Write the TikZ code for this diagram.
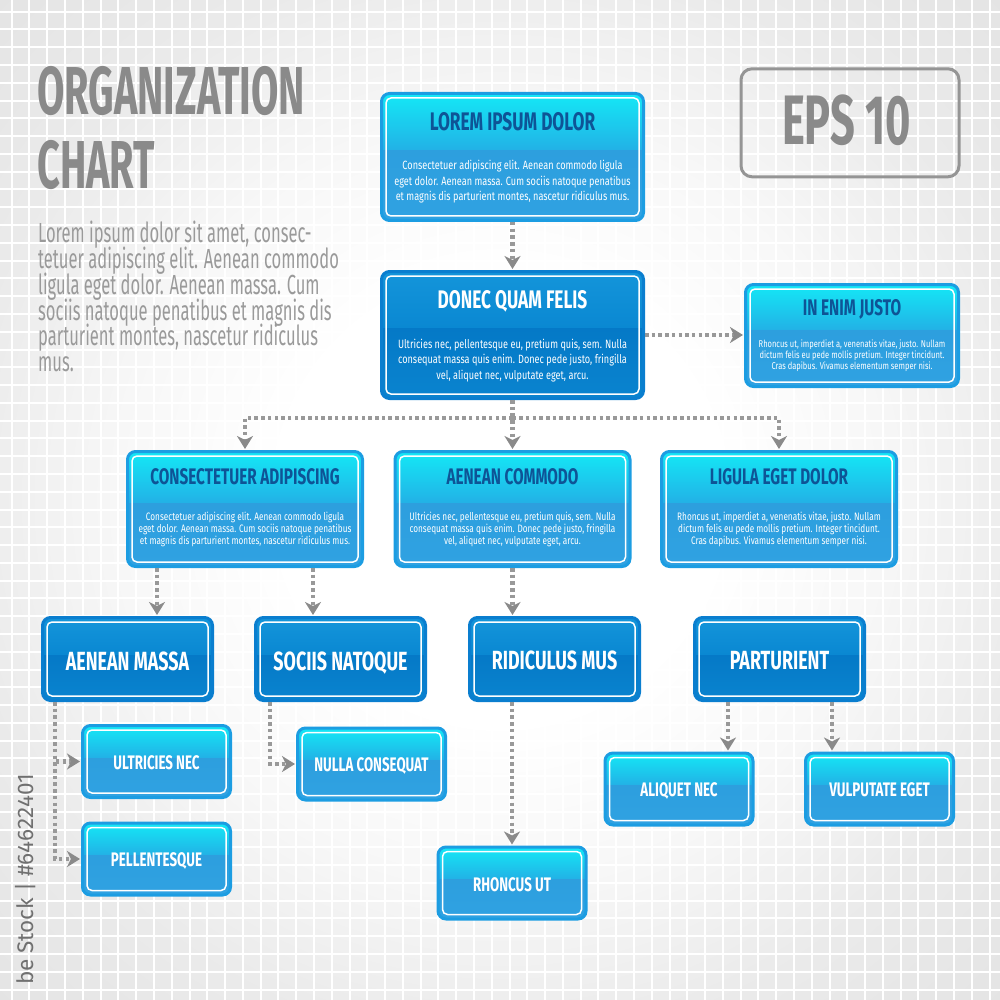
\documentclass[tikz,border=0pt]{standalone}
\usepackage{fontspec}
\setmainfont{Fira Sans}
\newfontfamily\titlefont{Fira Sans}[FakeStretch=0.585]
\newfontfamily\epsfont{Fira Sans}[FakeStretch=0.62]
\newfontfamily\headfont{Fira Sans}[FakeStretch=0.68]
\newfontfamily\bodyfont{Fira Sans}[FakeStretch=0.76]
\newfontfamily\parafont{Fira Sans}[FakeStretch=0.60]
\usetikzlibrary{arrows.meta,calc}
\definecolor{cyTop}{HTML}{14E8F6}
\definecolor{cyMid}{HTML}{22B2E6}
\definecolor{cyLow}{HTML}{2A9CDB}
\definecolor{cyBot}{HTML}{30A2E2}
\definecolor{cyEdge}{HTML}{1C9DE2}
\definecolor{dkTop}{HTML}{1495DA}
\definecolor{dkMid}{HTML}{0A88D2}
\definecolor{dkLow}{HTML}{0070C0}
\definecolor{dkBot}{HTML}{0A84CF}
\definecolor{dkEdge}{HTML}{0A7ECF}
\definecolor{hdrBlue}{HTML}{0E5496}
\definecolor{greyText}{HTML}{8A8A8A}
\definecolor{paraGrey}{HTML}{9A9A9A}
\definecolor{connGrey}{HTML}{999999}
\definecolor{tipGrey}{HTML}{8A8A8A}
\definecolor{markGrey}{HTML}{707070}
\definecolor{epsGrey}{HTML}{959595}
\pgfdeclareradialshading{bgglow}{\pgfpoint{0bp}{0bp}}{color(0bp)=(white);color(11bp)=(white);color(19bp)=(black!3);color(27bp)=(black!8);color(37bp)=(black!11);color(50bp)=(black!12)}
\tikzset{
  glossy/.style n args={5}{rounded corners=8pt, draw=#5, line width=3pt, inner sep=0pt,
    path picture={
      \coordinate (ppnw) at (path picture bounding box.north west);
      \coordinate (ppse) at (path picture bounding box.south east);
      \fill[sharp corners,top color=#3,bottom color=#4] (ppnw) rectangle (ppse);
      \fill[sharp corners,top color=#1,bottom color=#2] (ppnw) rectangle ($(ppse|-ppnw)!0.44!(ppse)$);
      \draw[white,line width=1.5pt,rounded corners=5pt] ([shift={(4.5pt,-4.5pt)}]ppnw) rectangle ([shift={(-4.5pt,4.5pt)}]ppse);
    }},
  cybox/.style={glossy={cyTop}{cyMid}{cyLow}{cyBot}{cyEdge}},
  dkbox/.style={glossy={dkTop}{dkMid}{dkLow}{dkBot}{dkEdge}},
  bigsize/.style={minimum width=262pt, minimum height=127pt},
  sidesize/.style={minimum width=213pt, minimum height=102pt},
  midsize/.style={minimum width=235pt, minimum height=115pt},
  rowsize/.style={minimum width=170pt, minimum height=83pt},
  smallsize/.style={minimum width=148pt, minimum height=72pt},
  hdrA/.style={font=\headfont\bfseries\fontsize{25.4}{26}\selectfont, inner sep=0pt, anchor=base},
  hdrB/.style={font=\headfont\bfseries\fontsize{22.6}{23}\selectfont, inner sep=0pt, anchor=base, text=hdrBlue},
  hdrM/.style={font=\headfont\bfseries\fontsize{22.5}{23}\selectfont, inner sep=0pt, anchor=base, text=hdrBlue},
  rowtxt/.style={font=\headfont\bfseries\fontsize{26.3}{27}\selectfont, inner sep=0pt, anchor=base, text=white},
  smalltxt/.style={font=\headfont\bfseries\fontsize{19.6}{20}\selectfont, inner sep=0pt, anchor=base, text=white},
  bodyA/.style={font=\bodyfont\fontsize{12}{15.5}\selectfont, align=center, inner sep=0pt, text=white},
  bodyB/.style={font=\bodyfont\fontsize{9.9}{11.3}\selectfont, align=center, inner sep=0pt, text=white},
  bodyM/.style={font=\bodyfont\fontsize{10.8}{12}\selectfont, align=center, inner sep=0pt, text=white},
  conn/.style={draw=connGrey, line width=4.5pt, dash pattern=on 3.5pt off 3.2pt, shorten >=1pt,
    -{Stealth[length=13pt,width=16pt,inset=4pt,color=tipGrey]}},
}
\begin{document}
\begin{tikzpicture}[x=1pt,y=-1pt]
\useasboundingbox (0,0) rectangle (1000,1000);
\clip (0,0) rectangle (1000,1000);
% background
\shade[shading=bgglow] (0,0) rectangle (1000,1000);
\foreach \i in {0,...,56} {
  \draw[white,line width=2pt] ({11.7+17.78*\i},0) -- ++(0,1000);
  \draw[white,line width=2pt] (0,{11.7+17.78*\i}) -- ++(1000,0);
}
% title and paragraph
\node[font=\titlefont\bfseries\fontsize{67.8}{68}\selectfont, text=greyText, anchor=base west, inner sep=0pt] (t1) at (37,115) {ORGANIZATION};
\node[font=\titlefont\bfseries\fontsize{67.8}{68}\selectfont, text=greyText, anchor=base west, inner sep=0pt] (t2) at (37,189) {CHART};
\node[font=\parafont\fontsize{27.6}{26}\selectfont, text=paraGrey, anchor=base west, inner sep=0pt] (para) at (38,242.3)
  {\vtop{\baselineskip=25.9pt\lineskiplimit=-20pt\relax
   \hbox{Lorem ipsum dolor sit amet, consec-}
   \hbox{tetuer adipiscing elit. Aenean commodo}
   \hbox{ligula eget dolor. Aenean massa. Cum}
   \hbox{sociis natoque penatibus et magnis dis}
   \hbox{parturient montes, nascetur ridiculus}
   \hbox{mus.}}};
% EPS box
\node[draw=epsGrey, line width=3pt, rounded corners=11pt, minimum width=218pt, minimum height=108pt] (eps) at (850,122.8) {};
\node[font=\epsfont\bfseries\fontsize{70}{70}\selectfont, text=greyText, anchor=base, inner sep=0pt] (epst) at (846.5,145) {EPS 10};
% watermark id (visible part)
\node[font=\fontsize{22.5}{23}\selectfont, text=markGrey, rotate=90, anchor=base east, inner sep=0pt] (mark) at (33,774) {be Stock | \#64622401};

% boxes
\node[cybox, bigsize] (b1) at (512.5,157) {};
\node[dkbox, bigsize] (b2) at (512.5,335) {};
\node[cybox, sidesize] (b3) at (852,335.5) {};
\node[cybox, midsize] (m1) at (245,509) {};
\node[cybox, midsize] (m2) at (512.5,509) {};
\node[cybox, midsize] (m3) at (779,509) {};
\node[dkbox, rowsize] (r1) at (127.5,659) {};
\node[dkbox, rowsize] (r2) at (340.5,659) {};
\node[dkbox, rowsize] (r3) at (554.5,659) {};
\node[dkbox, rowsize] (r4) at (779.5,659) {};
\node[cybox, smallsize] (u1) at (156.5,761.5) {};
\node[cybox, smallsize] (p1) at (156.5,859) {};
\node[cybox, smallsize] (n1) at (371.5,764) {};
\node[cybox, smallsize] (a1) at (679,789) {};
\node[cybox, smallsize] (v1) at (879.5,789) {};
\node[cybox, smallsize] (rh) at (512,883) {};

% texts
\node[hdrA, text=hdrBlue] (b1h) at (512.5,130.5) {LOREM IPSUM DOLOR};
\node[bodyA] (b1t) at (512.5,182) {Consectetuer adipiscing elit. Aenean commodo ligula\\eget dolor. Aenean massa. Cum sociis natoque penatibus\\et magnis dis parturient montes, nascetur ridiculus mus.};
\node[hdrA, text=white] (b2h) at (512.5,308.3) {DONEC QUAM FELIS};
\node[bodyA] (b2t) at (512.5,360.5) {Ultricies nec, pellentesque eu, pretium quis, sem. Nulla\\consequat massa quis enim. Donec pede justo, fringilla\\vel, aliquet nec, vulputate eget, arcu.};
\node[hdrB] (b3h) at (852,315) {IN ENIM JUSTO};
\node[bodyB] (b3t) at (852,355.5) {Rhoncus ut, imperdiet a, venenatis vitae, justo. Nullam\\dictum felis eu pede mollis pretium. Integer tincidunt.\\Cras dapibus. Vivamus elementum semper nisi.};
\node[hdrM] (m1h) at (245,484.5) {CONSECTETUER ADIPISCING};
\node[bodyM] (m1t) at (245,529) {Consectetuer adipiscing elit. Aenean commodo ligula\\eget dolor. Aenean massa. Cum sociis natoque penatibus\\et magnis dis parturient montes, nascetur ridiculus mus.};
\node[hdrM] (m2h) at (512.5,484.5) {AENEAN COMMODO};
\node[bodyM] (m2t) at (512.5,529) {Ultricies nec, pellentesque eu, pretium quis, sem. Nulla\\consequat massa quis enim. Donec pede justo, fringilla\\vel, aliquet nec, vulputate eget, arcu.};
\node[hdrM] (m3h) at (779,484.5) {LIGULA EGET DOLOR};
\node[bodyM] (m3t) at (779,529) {Rhoncus ut, imperdiet a, venenatis vitae, justo. Nullam\\dictum felis eu pede mollis pretium. Integer tincidunt.\\Cras dapibus. Vivamus elementum semper nisi.};
\node[rowtxt] (r1h) at (127.5,670) {AENEAN MASSA};
\node[rowtxt] (r2h) at (340.5,670) {SOCIIS NATOQUE};
\node[rowtxt] (r3h) at (554.5,669) {RIDICULUS MUS};
\node[rowtxt] (r4h) at (779.5,669) {PARTURIENT};
\node[smalltxt] (u1h) at (156.5,769.3) {ULTRICIES NEC};
\node[smalltxt] (p1h) at (156.5,866.7) {PELLENTESQUE};
\node[smalltxt] (n1h) at (371.5,771.7) {NULLA CONSEQUAT};
\node[smalltxt] (a1h) at (679,796) {ALIQUET NEC};
\node[smalltxt] (v1h) at (879.5,796) {VULPUTATE EGET};
\node[smalltxt] (rhh) at (512,891) {RHONCUS UT};

% connectors
\coordinate (bus) at (512.5,418);
\coordinate (xa) at (157,0);
\coordinate (xb) at (313,0);
\coordinate (xc) at (55,0);
\coordinate (xd) at (270,0);
\coordinate (xe) at (728,0);
\coordinate (xf) at (832,0);
\draw[conn] (b1) -- (b2);
\draw[conn] (b2.east) -- (b3.west |- b2.east);
\draw[conn] (b2.south) -- (m2.north);
\draw[conn] (bus) -| (m1.north);
\draw[conn] (bus) -| (m3.north);
\draw[conn] (m1.south -| xa) -- (r1.north -| xa);
\draw[conn] (m1.south -| xb) -- (r2.north -| xb);
\draw[conn] (m2.south) -- (m2.south |- r3.north);
\draw[conn] (r1.south -| xc) |- (u1.west);
\draw[conn] (r1.south -| xc) |- (p1.west);
\draw[conn] (r2.south -| xd) |- (n1.west);
\draw[conn] (r3.south -| rh.north) -- (rh.north);
\draw[conn] (r4.south -| xe) -- (a1.north -| xe);
\draw[conn] (r4.south -| xf) -- (v1.north -| xf);
\end{tikzpicture}
\end{document}
